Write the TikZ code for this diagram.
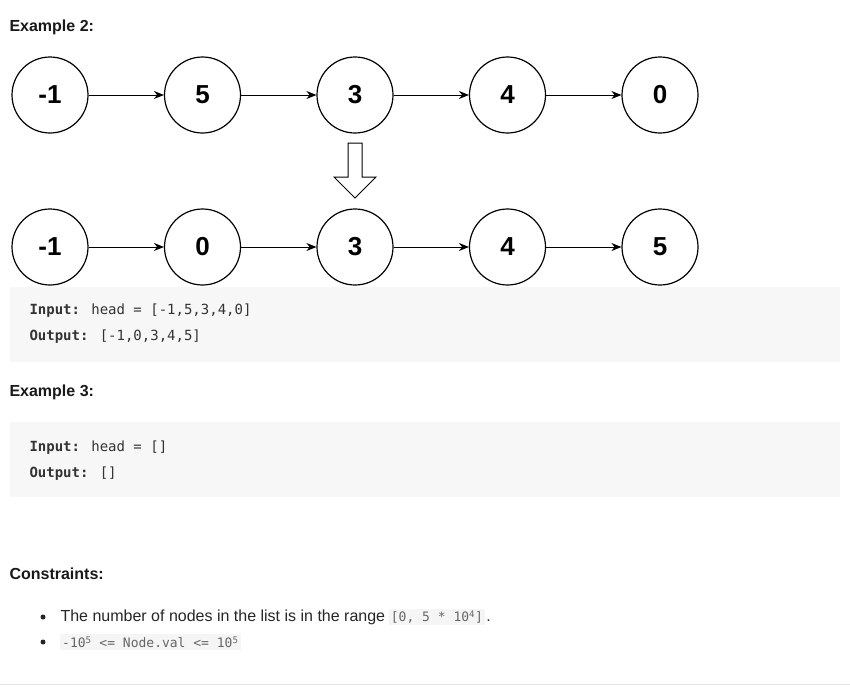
\documentclass[tikz,border=0pt]{standalone}
\usetikzlibrary{arrows.meta}
\usepackage{fontspec}
\setmainfont{Liberation Sans}
\newfontfamily\codefont{DejaVu Sans Mono}
\begin{document}
\begin{tikzpicture}[x=1pt,y=-1pt,
  ln/.style={circle,draw,line width=1.2pt,minimum size=76pt,inner sep=0pt,font=\fontsize{26}{26}\selectfont\bfseries},
  ar/.style={-{Stealth[length=10pt,width=8pt]},line width=1pt},
  codebox/.style={fill=black!3,draw=none},
  head/.style={anchor=west,font=\fontsize{16}{16}\selectfont\bfseries,text=black!90},
  code/.style={anchor=west,font=\fontsize{14}{14}\selectfont\codefont,text=black!80},
  body/.style={anchor=west,font=\fontsize{16}{16}\selectfont,text=black!85},
  inl/.style={anchor=west,fill=black!4,inner sep=2pt,font=\fontsize{13}{13}\selectfont\codefont\color{black!60}}]
\useasboundingbox (0,0) rectangle (850,686);
\fill[white] (0,0) rectangle (850,686);
\node[head] (ex2) at (6,27) {Example 2:};
\foreach \v [count=\i] in {-1,5,3,4,0} \node[ln] (a\i) at ({50+152.5*(\i-1)},95) {\v};
\foreach \v [count=\i] in {-1,0,3,4,5} \node[ln] (b\i) at ({50+152.5*(\i-1)},247) {\v};
\foreach \i/\j in {1/2,2/3,3/4,4/5} {\draw[ar] (a\i) -- (a\j); \draw[ar] (b\i) -- (b\j);}
\draw[line width=1pt,fill=white] (348,143) -- (362,143) -- (362,177) -- (376,177) -- (355,198) -- (334,177) -- (348,177) -- cycle;
\fill[codebox] (10,287) rectangle (840,362);
\node[code] (in2) at (26,311) {\textbf{Input:} head = [-1,5,3,4,0]};
\node[code] (out2) at (26,337) {\textbf{Output:} [-1,0,3,4,5]};
\node[head] (ex3) at (6,392) {Example 3:};
\fill[codebox] (10,422) rectangle (840,497);
\node[code] (in3) at (26,448) {\textbf{Input:} head = []};
\node[code] (out3) at (26,474) {\textbf{Output:} []};
\node[head] (con) at (6,574) {Constraints:};
\fill[black!85] (43,617) circle (2.5);
\fill[black!85] (43,642) circle (2.5);
\node[body] (c1) at (57,617) {The number of nodes in the list is in the range};
\node[inl,anchor=west] (c1c) at (c1.east) {[0, 5 * 10\textsuperscript{4}]};
\node[body,inner sep=1pt,anchor=base west] (c1d) at (c1c.base east) {.};
\node[inl] (c2) at (60,642) {-10\textsuperscript{5} <= Node.val <= 10\textsuperscript{5}};
\draw[black!10,line width=1pt] (0,684) -- (850,684);
\end{tikzpicture}
\end{document}
